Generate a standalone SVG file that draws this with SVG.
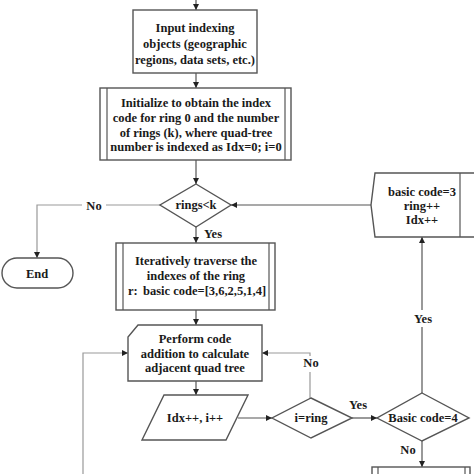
<svg xmlns="http://www.w3.org/2000/svg" width="474" height="474" viewBox="0 0 474 474">
<defs>
<marker id="ah" viewBox="0 0 10 10" refX="10" refY="5" markerWidth="6" markerHeight="6" markerUnits="userSpaceOnUse" orient="auto">
<path d="M0,0 L10,5 L0,10 Z" fill="#222"/>
</marker>
</defs>
<style>
.s{fill:#fff;stroke:#555;stroke-width:1.4}
.l{fill:none;stroke:#555;stroke-width:1.2}
.g{fill:none;stroke:#999;stroke-width:1.2}
.t{font-family:"Liberation Serif","Times New Roman",serif;font-weight:bold;font-size:12.5px;fill:#1a1a1a;text-anchor:middle}
.st{text-anchor:start}
.bg{fill:#fff}
</style>
<rect width="474" height="474" fill="#fff"/>
<g id="connectors">
<line class="l" x1="196" y1="0" x2="196" y2="10" marker-end="url(#ah)"/>
<line class="l" x1="196" y1="73" x2="196" y2="88" marker-end="url(#ah)"/>
<line class="l" x1="196" y1="160" x2="196" y2="184" marker-end="url(#ah)"/>
<polyline class="g" points="160,205 37,205 37,258" marker-end="url(#ah)"/>
<rect class="bg" x="82" y="196" width="24" height="18"/>
<text class="t" x="94" y="210">No</text>
<line class="l" x1="196" y1="227" x2="196" y2="243" marker-end="url(#ah)"/>
<text class="t" x="213" y="238">Yes</text>
<line class="l" x1="196" y1="310" x2="196" y2="325" marker-end="url(#ah)"/>
<polyline class="g" points="83,474 83,353 128,353" marker-end="url(#ah)"/>
<polyline class="g" points="310,398 310,353 262,353" marker-end="url(#ah)"/>
<rect class="bg" x="300" y="356" width="22" height="16"/>
<text class="t" x="311" y="367">No</text>
<line class="l" x1="196" y1="381" x2="196" y2="395" marker-end="url(#ah)"/>
<line class="l" x1="238" y1="418" x2="272" y2="418" marker-end="url(#ah)"/>
<line class="l" x1="352" y1="418" x2="377" y2="418" marker-end="url(#ah)"/>
<text class="t" x="358" y="409">Yes</text>
<line class="l" x1="422" y1="393" x2="422" y2="237" marker-end="url(#ah)"/>
<rect class="bg" x="409" y="310" width="28" height="17"/>
<text class="t" x="423" y="323">Yes</text>
<line class="l" x1="422" y1="441" x2="422" y2="467" marker-end="url(#ah)"/>
<text class="t" x="408" y="454">No</text>
<line class="l" x1="371" y1="205" x2="231" y2="205" marker-end="url(#ah)"/>
</g>
<g id="input">
<rect class="s" x="133" y="10" width="124" height="63"/>
<text class="t" x="195" y="32">Input indexing</text>
<text class="t" x="195" y="48">objects (geographic</text>
<text class="t" x="195" y="64">regions, data sets, etc.)</text>
</g>
<g id="init">
<rect class="s" x="100" y="88" width="191" height="72"/>
<line class="l" x1="107" y1="88" x2="107" y2="160"/>
<line class="l" x1="285" y1="88" x2="285" y2="160"/>
<text class="t" x="196" y="107">Initialize to obtain the index</text>
<text class="t" x="196" y="122">code for ring 0 and the number</text>
<text class="t" x="196" y="137">of rings (k), where quad-tree</text>
<text class="t" x="196" y="151">number is indexed as Idx=0; i=0</text>
</g>
<g id="ringsk">
<polygon class="s" points="196,184 231,205 196,227 160,205"/>
<text class="t" x="196" y="209">rings&lt;k</text>
</g>
<g id="end">
<rect class="s" x="2" y="258" width="71" height="30" rx="15"/>
<text class="t" x="37" y="278">End</text>
</g>
<g id="iterate">
<rect class="s" x="116" y="243" width="159" height="67"/>
<line class="l" x1="123" y1="243" x2="123" y2="310"/>
<line class="l" x1="269" y1="243" x2="269" y2="310"/>
<text class="t" x="196" y="265">Iteratively traverse the</text>
<text class="t" x="196" y="280">indexes of the ring</text>
<text class="t st" x="128" y="295">r:</text>
<text class="t st" x="143" y="295">basic code=[3,6,2,5,1,4]</text>
</g>
<g id="perform">
<path class="s" d="M138,325 H262 V381 H128 V337 Z"/>
<text class="t" x="195" y="343">Perform code</text>
<text class="t" x="195" y="358">addition to calculate</text>
<text class="t" x="195" y="372">adjacent quad tree</text>
</g>
<g id="idx">
<polygon class="s" points="164,395 248,395 226,440 142,440"/>
<text class="t" x="195" y="422">Idx++, i++</text>
</g>
<g id="iring">
<polygon class="s" points="311,398 352,418 311,438 272,418"/>
<text class="t" x="311" y="422">i=ring</text>
</g>
<g id="basic4">
<polygon class="s" points="422,393 469,418 422,441 377,418"/>
<text class="t" x="423" y="422">Basic code=4</text>
</g>
<g id="basic3">
<path class="s" d="M375,173 H480 V237 H375 L371,205 Z"/>
<line class="l" x1="460" y1="173" x2="460" y2="237"/>
<text class="t" x="422" y="196">basic code=3</text>
<text class="t" x="422" y="210">ring++</text>
<text class="t" x="422" y="224">Idx++</text>
</g>
<g id="bottombox">
<rect class="s" x="372" y="467" width="98" height="20"/>
<line class="l" x1="378" y1="467" x2="378" y2="474"/>
<line class="l" x1="465" y1="467" x2="465" y2="474"/>
</g>
</svg>
